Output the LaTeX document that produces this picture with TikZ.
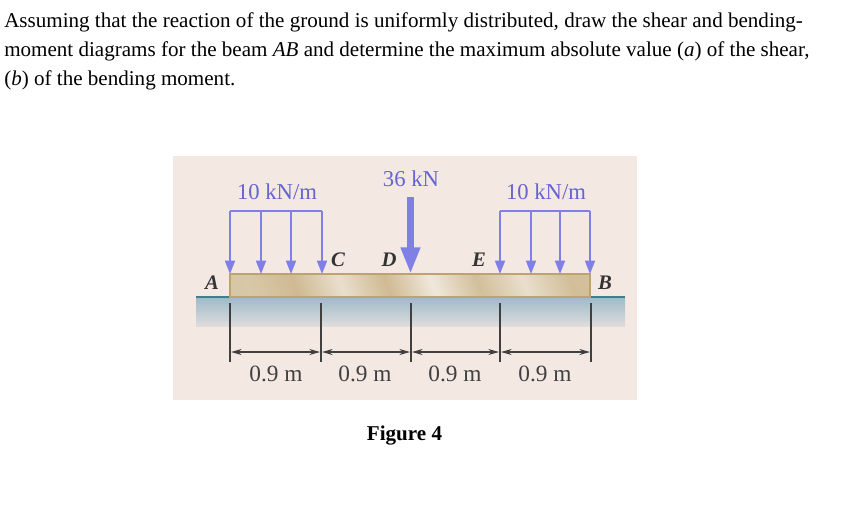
\documentclass[tikz,border=0pt]{standalone}
\usepackage{fontspec}
\setmainfont{Liberation Serif}
\usepackage{xcolor}
\usetikzlibrary{arrows.meta}

\definecolor{panelbg}{HTML}{F4E8E3}
\definecolor{loadblue}{HTML}{7F7FE6}
\definecolor{loadtext}{HTML}{6464D2}
\definecolor{groundblue}{HTML}{9DBAC8}
\definecolor{groundline}{HTML}{3F7F8C}
\definecolor{beamedge}{HTML}{BFA36E}
\pgfdeclarehorizontalshading{beamshade}{100bp}{
  color(0bp)=(beamedge!70!white); color(22bp)=(beamedge!60!white); color(30bp)=(beamedge!75!white);
  color(38bp)=(beamedge!35!white); color(46bp)=(beamedge!75!white); color(54bp)=(beamedge!25!white);
  color(62bp)=(beamedge!70!white); color(70bp)=(beamedge!35!white); color(78bp)=(beamedge!70!white);
  color(100bp)=(beamedge!60!white)}

\tikzset{
  para/.style={anchor=base west, inner sep=0pt, font=\fontsize{15.8}{15.8}\selectfont},
  loadlabel/.style={text=loadtext, inner sep=0pt, font=\fontsize{17}{17}\selectfont},
  pointlabel/.style={inner sep=0pt, font=\fontsize{15.5}{15.5}\selectfont\bfseries\itshape, text=black!80},
  dimlabel/.style={inner sep=0pt, font=\fontsize{17.5}{17.5}\selectfont, text=black!75},
  loadline/.style={draw=loadblue, line width=1.2pt},
  loadarrow/.style={draw=loadblue, line width=1.2pt, -{Triangle[length=10pt, width=7.5pt]}},
  dimline/.style={draw=black!75, line width=1pt},
  dimarrow/.style={draw=black!75, line width=0.9pt, {Stealth[length=8pt, width=4.5pt]}-{Stealth[length=8pt, width=4.5pt]}}
}

\begin{document}
\begin{tikzpicture}[x=0.75pt, y=-0.75pt]
        \useasboundingbox (0,0) rectangle (842,504);

        % question text
        \node[para] (lineone) at (4,27) {Assuming that the reaction of the ground is uniformly distributed, draw the shear and bending-};
        \node[para] (linetwo) at (4,56) {moment diagrams for the beam \textit{AB} and determine the maximum absolute value (\textit{a}) of the shear,};
        \node[para] (linethree) at (4,85) {(\textit{b}) of the bending moment.};

        % panel, ground, beam
        \fill[panelbg] (173,156) rectangle (637,400);
        \shade[top color=groundblue, bottom color=panelbg!75!groundblue] (196,297) rectangle (625,326);
        \draw[groundline, line width=0.8pt] (196,297) -- (230,297);
        \draw[groundline, line width=0.8pt] (590,297) -- (625,297);
        \draw[beamedge, line width=1pt, shading=beamshade, shading angle=20] (230,274) rectangle (590,297);

        \coordinate (A1) at (230,274);
        \coordinate (A2) at (261,274);
        \coordinate (A3) at (291,274);
        \coordinate (A4) at (322,274);
        \coordinate (E1) at (500,274);
        \coordinate (E2) at (531,274);
        \coordinate (E3) at (560,274);
        \coordinate (E4) at (590,274);
        \coordinate (L1) at (230,211);
        \coordinate (L2) at (261,211);
        \coordinate (L3) at (291,211);
        \coordinate (L4) at (322,211);
        \coordinate (R1) at (500,211);
        \coordinate (R2) at (531,211);
        \coordinate (R3) at (560,211);
        \coordinate (R4) at (590,211);

        % left load
        \draw[loadline] (L1) -- (L4);
        \draw[loadarrow] (L1) -- (A1);
        \draw[loadarrow] (L2) -- (A2);
        \draw[loadarrow] (L3) -- (A3);
        \draw[loadarrow] (L4) -- (A4);

        % right load
        \draw[loadline] (R1) -- (R4);
        \draw[loadarrow] (R1) -- (E1);
        \draw[loadarrow] (R2) -- (E2);
        \draw[loadarrow] (R3) -- (E3);
        \draw[loadarrow] (R4) -- (E4);

        % point load
        \coordinate (P0) at (410.5,197);
        \coordinate (P1) at (410.5,274);
        \draw[loadblue, line width=5pt, -{Triangle[length=20pt, width=13.5pt]}] (P0) -- (P1);

        \node[loadlabel] (loadleft) at (277,192) {10 kN/m};
        \node[loadlabel] (loadmid) at (411,179) {36 kN};
        \node[loadlabel] (loadright) at (546,192) {10 kN/m};

        \node[pointlabel] (ptA) at (212,283) {A};
        \node[pointlabel] (ptB) at (605,283) {B};
        \node[pointlabel] (ptC) at (338,260) {C};
        \node[pointlabel] (ptD) at (389,260) {D};
        \node[pointlabel] (ptE) at (479,260) {E};

        % dimension lines
        \coordinate (d1t) at (230,303);
        \coordinate (d2t) at (321,303);
        \coordinate (d3t) at (411,303);
        \coordinate (d4t) at (500,303);
        \coordinate (d5t) at (591,303);
        \coordinate (d1b) at (230,362);
        \coordinate (d2b) at (321,362);
        \coordinate (d3b) at (411,362);
        \coordinate (d4b) at (500,362);
        \coordinate (d5b) at (591,362);
        \draw[dimline] (d1t) -- (d1b);
        \draw[dimline] (d2t) -- (d2b);
        \draw[dimline] (d3t) -- (d3b);
        \draw[dimline] (d4t) -- (d4b);
        \draw[dimline] (d5t) -- (d5b);

        \coordinate (m1) at (231,352);
        \coordinate (m2) at (320,352);
        \coordinate (m3) at (322,352);
        \coordinate (m4) at (410,352);
        \coordinate (m5) at (412,352);
        \coordinate (m6) at (499,352);
        \coordinate (m7) at (501,352);
        \coordinate (m8) at (590,352);
        \draw[dimarrow] (m1) -- (m2);
        \draw[dimarrow] (m3) -- (m4);
        \draw[dimarrow] (m5) -- (m6);
        \draw[dimarrow] (m7) -- (m8);

        \node[dimlabel] (dimone) at (276,374) {0.9 m};
        \node[dimlabel] (dimtwo) at (365,374) {0.9 m};
        \node[dimlabel] (dimthree) at (455,374) {0.9 m};
        \node[dimlabel] (dimfour) at (545,374) {0.9 m};

        \node[inner sep=0pt, font=\fontsize{15.8}{15.8}\selectfont\bfseries] (figlabel) at (404.5,436) {Figure 4};
    \end{tikzpicture}
\end{document}
